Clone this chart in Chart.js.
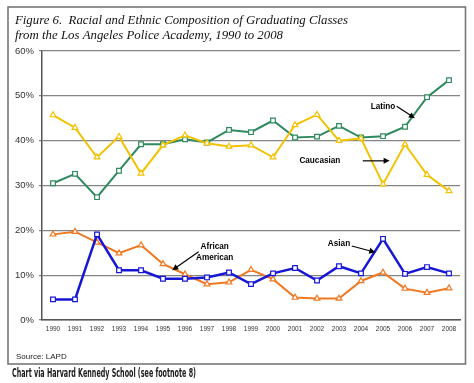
<!DOCTYPE html>
<html lang="en">
	<head>
		<meta http-equiv="content-type" content="text/html; charset=UTF-8">
		<script src="https://cdn.jsdelivr.net/npm/chart.js@4.4.1/dist/chart.umd.min.js"></script>
		<title>LAPD Academy Graduates</title>
		<style>
			body { margin: 0; background: #fff; }
			canvas { display: block; }
		</style>
	</head>
	<body>
		<canvas id="line-chart" width="474" height="383"></canvas>
		<script>
			var years = ["1990", "1991", "1992", "1993", "1994", "1995", "1996", "1997", "1998", "1999",
				"2000", "2001", "2002", "2003", "2004", "2005", "2006", "2007", "2008"];
			var latino = [30.5, 32.6, 27.4, 33.3, 39.2, 39.2, 40.3, 39.6, 42.4, 41.9, 44.5, 40.7, 40.9, 43.3, 40.7, 41.0, 43.1, 49.7, 53.5];
			var caucasian = [45.7, 42.9, 36.3, 40.9, 32.7, 39.0, 41.2, 39.4, 38.7, 39.0, 36.3, 43.5, 45.8, 40.0, 40.5, 30.3, 39.2, 32.4, 28.8];
			var africanAmerican = [19.1, 19.7, 17.3, 14.9, 16.7, 12.5, 10.2, 8.0, 8.4, 11.2, 9.1, 5.0, 4.8, 4.8, 8.7, 10.6, 7.0, 6.1, 7.1];
			var asian = [4.6, 4.6, 19.1, 11.1, 11.1, 9.2, 9.2, 9.5, 10.6, 8.0, 10.4, 11.6, 8.8, 12.0, 10.4, 18.1, 10.3, 11.8, 10.4];
			var yTicks = [0, 10, 20, 30, 40, 50, 60];

			var titleLines = ["Figure 6.  Racial and Ethnic Composition of Graduating Classes",
				"from the Los Angeles Police Academy, 1990 to 2008"];

			// labels with arrows, placed in data units (index along x, percent along y)
			var callouts = [
				{ lines: ["Latino"], x: 15.0, y: 47.5, align: "center", from: [15.62, 47.7], to: [16.45, 45.0] },
				{ lines: ["Caucasian"], x: 11.2, y: 35.5, align: "left", from: [14.08, 35.5], to: [15.3, 35.5] },
				{ lines: ["African", "American"], x: 7.35, y: 16.3, align: "center", from: [6.62, 15.2], to: [5.42, 11.1] },
				{ lines: ["Asian"], x: 13.0, y: 17.0, align: "center", from: [13.58, 16.5], to: [14.65, 15.1] }
			];

			function arrow(ctx, x1, y1, x2, y2) {
				var a = Math.atan2(y2 - y1, x2 - x1);
				ctx.beginPath();
				ctx.moveTo(x1, y1);
				ctx.lineTo(x2 - 3 * Math.cos(a), y2 - 3 * Math.sin(a));
				ctx.stroke();
				ctx.beginPath();
				ctx.moveTo(x2, y2);
				ctx.lineTo(x2 - 6 * Math.cos(a) + 3 * Math.sin(a), y2 - 6 * Math.sin(a) - 3 * Math.cos(a));
				ctx.lineTo(x2 - 6 * Math.cos(a) - 3 * Math.sin(a), y2 - 6 * Math.sin(a) + 3 * Math.cos(a));
				ctx.closePath();
				ctx.fill();
			}

			var decorations = {
				id: "decorations",
				afterDraw: function(chart) {
					var ctx = chart.ctx;
					var xs = chart.scales.x, ys = chart.scales.y;
					ctx.save();
					// frame
					ctx.strokeStyle = "#777";
					ctx.lineWidth = 1.6;
					ctx.strokeRect(8, 7, 457.5, 357);
					// title
					ctx.fillStyle = "#111";
					ctx.font = "italic 13.5px 'Liberation Serif', 'Times New Roman', serif";
					ctx.textBaseline = "middle";
					ctx.textAlign = "left";
					ctx.fillText(titleLines[0], 15, 20, 333);
					ctx.fillText(titleLines[1], 15, 35, 268);
					// source + credit
					ctx.fillStyle = "#222";
					ctx.font = "8px 'Liberation Sans', Arial, sans-serif";
					ctx.fillText("Source: LAPD", 16, 357);
					ctx.fillStyle = "#1a1a1a";
					ctx.font = "bold 13px 'Liberation Sans Narrow', 'DejaVu Sans Condensed', sans-serif";
					ctx.fillText("Chart via Harvard Kennedy School (see footnote 8)", 12, 374, 184);
					// callouts
					ctx.font = "bold 8.2px 'Liberation Sans', Arial, sans-serif";
					ctx.fillStyle = "#000";
					ctx.strokeStyle = "#000";
					ctx.lineWidth = 1.2;
					callouts.forEach(function(c) {
						ctx.textAlign = c.align;
						c.lines.forEach(function(t, i) {
							ctx.fillText(t, xs.getPixelForValue(c.x), ys.getPixelForValue(c.y) + i * 11);
						});
						arrow(ctx, xs.getPixelForValue(c.from[0]), ys.getPixelForValue(c.from[1]),
							xs.getPixelForValue(c.to[0]), ys.getPixelForValue(c.to[1]));
					});
					ctx.restore();
				}
			};

			function series(label, data, color, style, width) {
				return {
					label: label,
					data: data,
					borderColor: color,
					borderWidth: width,
					backgroundColor: "#fff",
					pointStyle: style,
					pointRadius: 3.3,
					pointBorderWidth: 1.2,
					pointBorderColor: color,
					pointBackgroundColor: "#fff",
					tension: 0
				};
			}

			new Chart(document.getElementById("line-chart"), {
				type: "line",
				data: {
					labels: years,
					datasets: [
						series("Caucasian", caucasian, "#f2c200", "triangle", 2),
						series("Latino", latino, "#2e8a5e", "rect", 2),
						series("Asian", asian, "#1616d6", "rect", 2.5),
						series("African American", africanAmerican, "#f07820", "triangle", 2)
					]
				},
				options: {
					responsive: false,
					animation: false,
					clip: false,
					layout: { padding: { left: 0, right: 14, top: 51, bottom: 43 } },
					plugins: {
						legend: { display: false },
						tooltip: { enabled: false }
					},
					scales: {
						x: {
							offset: true,
							grid: { display: false, drawTicks: false },
							border: { display: true, color: "#555", width: 1.5 },
							ticks: {
								padding: 5,
								maxRotation: 0,
								autoSkip: false,
								color: "#333",
								font: { family: "'Liberation Sans', Arial, sans-serif", size: 6.5 }
							},
							afterFit: function(scale) { scale.height = 20; }
						},
						y: {
							min: yTicks[0],
							max: yTicks[yTicks.length - 1],
							afterBuildTicks: function(scale) {
								scale.ticks = yTicks.map(function(v) { return { value: v }; });
							},
							grid: { color: "#858585", lineWidth: 1.2, tickLength: 3 },
							border: { display: true, color: "#555", width: 1.5 },
							ticks: {
								padding: 5,
								color: "#333",
								font: { family: "'Liberation Sans', Arial, sans-serif", size: 9.5 },
								callback: function(v) { return v + "%"; }
							},
							afterFit: function(scale) { scale.width = 42; }
						}
					}
				},
				plugins: [decorations]
			});
		</script>
	</body>
</html>
